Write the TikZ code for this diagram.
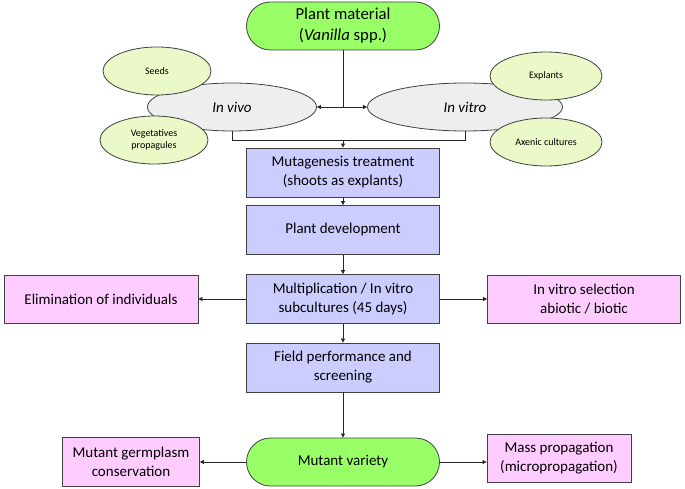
\documentclass[tikz,border=0pt]{standalone}
\usepackage{fontspec}
\setmainfont{Carlito}
\usetikzlibrary{positioning,arrows.meta,shapes.geometric}
\definecolor{pillgreen}{HTML}{99FF66}
\definecolor{leafgreen}{HTML}{EBF8C8}
\definecolor{ovalgray}{HTML}{EEEEEE}
\definecolor{stepblue}{HTML}{CCCCFF}
\definecolor{sidepink}{HTML}{FFCCFF}

\begin{document}
\begin{tikzpicture}[x=1pt, y=-1pt, line width=0.8pt,
  pill/.style={draw=black!75, fill=pillgreen, rounded corners=24pt, minimum width=193pt,
    minimum height=48pt, inner sep=0pt, align=center},
  mainoval/.style={ellipse, draw=black!75, fill=ovalgray, minimum height=48pt, inner sep=0pt,
    font=\fontsize{15}{18}\selectfont\itshape},
  suboval/.style={ellipse, draw=black!75, fill=leafgreen, minimum width=108pt, minimum height=48pt,
    inner sep=0pt, align=center, font=\fontsize{10}{12.5}\selectfont},
  stepbox/.style={draw=black!75, fill=stepblue, minimum width=193pt, minimum height=49pt,
    inner sep=0pt, align=center, font=\fontsize{15}{19}\selectfont},
  sidebox/.style={draw=black!75, fill=sidepink, minimum height=48pt, inner sep=0pt, align=center,
    font=\fontsize{15}{19}\selectfont},
  link/.style={black!85, line width=0.7pt},
  arr/.style={link, -{Triangle[length=4pt, width=4pt]}}]
\useasboundingbox (0,0) rectangle (685,489);
% source
\node[pill, font=\fontsize{16.7}{21}\selectfont] (plant) at (343,26) {Plant material\\(\textit{Vanilla} spp.)};
% two sources of material
\node[mainoval, minimum width=169pt] (vivo) at (232,107) {In vivo};
\node[mainoval, minimum width=195pt] (vitro) at (465,107) {In vitro};
\node[suboval] (seeds) at (157,71) {Seeds};
\node[suboval] (veget) at (154,140) {Vegetatives\\propagules};
\node[suboval, minimum width=112pt] (expl) at (546,76) {Explants};
\node[suboval, minimum width=112pt] (axenic) at (546,142) {Axenic cultures};
% main chain
\node[stepbox] (mutag) at (343,172.5) {Mutagenesis treatment\\(shoots as explants)};
\node[stepbox] (devel) at (343,230) {Plant development};
\node[stepbox] (multi) at (343,299) {Multiplication / In vitro\\subcultures (45 days)};
\node[stepbox] (field) at (343,367.5) {Field performance and\\screening};
\node[pill, font=\fontsize{15}{19}\selectfont] (variety) at (343,462) {Mutant variety};
% side outcomes
\node[sidebox, minimum width=194pt] (elim) at (101,299) {Elimination of individuals};
\node[sidebox, minimum width=193pt] (select) at (584,299) {In vitro selection\\abiotic / biotic};
\node[sidebox, minimum width=137pt, minimum height=49pt] (germ) at (131,461.5) {Mutant germplasm\\conservation};
\node[sidebox, minimum width=144pt] (mass) at (559,458) {Mass propagation\\(micropropagation)};
% connectors
\coordinate (split) at (343,107);
\coordinate (merge) at (343,140);
\draw[link] (plant.south) -- (split);
\draw[arr] (split) -- (vivo.east);
\draw[arr] (split) -- (vitro.west);
\draw[link] (vivo.south) |- (merge);
\draw[link] (vitro.south) |- (merge);
\draw[arr] (merge) -- (mutag.north);
\draw[arr] (mutag) -- (devel);
\draw[arr] (devel) -- (multi);
\draw[arr] (multi) -- (field);
\draw[arr] (field) -- (variety);
\draw[arr] (multi) -- (elim);
\draw[arr] (multi) -- (select);
\draw[arr] (variety) -- (germ.east |- variety);
\draw[arr] (variety) -- (mass.west |- variety);
\end{tikzpicture}
\end{document}
